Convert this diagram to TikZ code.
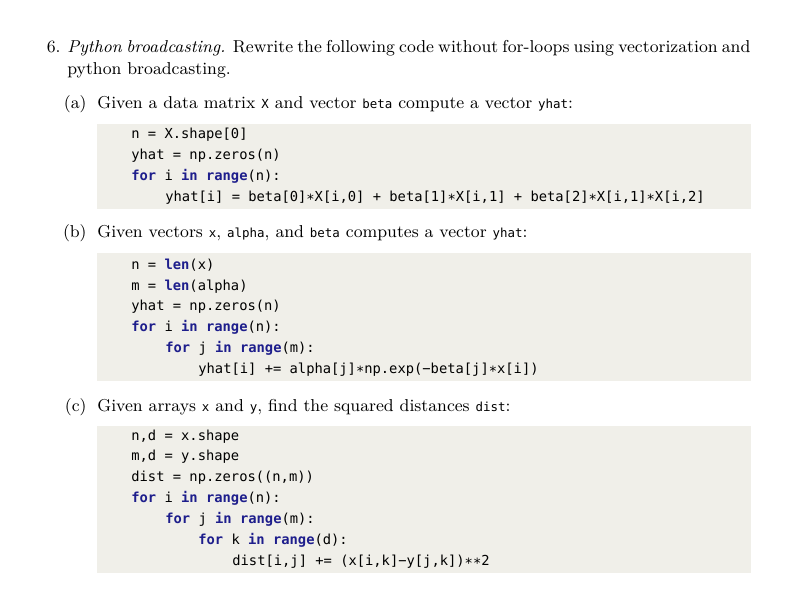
\documentclass[tikz,border=0pt]{standalone}
\usepackage{fontspec}
\usepackage{xcolor}
\usepackage{tikz}
\newfontfamily\codefont{DejaVu Sans Mono}
\definecolor{codebg}{RGB}{240,239,233}
\definecolor{keyword}{RGB}{30,30,140}
\newcommand{\kw}[1]{{\bfseries\color{keyword}#1}}
\newcommand{\inl}[1]{{\codefont\fontsize{6.8}{8}\selectfont #1}}

\begin{document}
\begin{tikzpicture}[x=0.5455pt,y=-0.5455pt,
  txt/.style={anchor=base west,inner sep=0pt,font={\fontsize{9.4}{11}\selectfont}},
  lbl/.style={anchor=base east,inner sep=0pt,font={\fontsize{9.4}{11}\selectfont}},
  codeline/.style={anchor=base west,inner sep=0pt,font={\codefont\fontsize{7.52}{9}\selectfont}}]
\useasboundingbox[fill=white] (0,0) rectangle (790,604);

% code backgrounds
\fill[codebg] (97,124) rectangle (751,209);
\fill[codebg] (97,253) rectangle (751,381);
\fill[codebg] (97,426) rectangle (751,573);

% task text
\node[lbl] (num) at (61,53) {6.};
\node[txt] (L1) at (67,53)
{\makebox[372.6pt][s]{\textit{Python broadcasting.} Rewrite the following code without for-loops using vectorization and}};
\node[txt] (L2) at (67,75) {python broadcasting.};

% part a
\node[lbl] (pa) at (87,109) {(a)};
\node[txt] (Ta) at (97,109)
{Given a data matrix \inl{X} and vector \inl{beta} compute a vector \inl{yhat}:};
\node[codeline] (a1) at (131,139) {n = X.shape[0]};
\node[codeline] (a2) at (131,160) {yhat = np.zeros(n)};
\node[codeline] (a3) at (131,181) {\kw{for} i \kw{in} \kw{range}(n):};
\node[codeline] (a4) at (165,202)
{yhat[i] = beta[0]∗X[i,0] + beta[1]∗X[i,1] + beta[2]∗X[i,1]∗X[i,2]};

% part b
\node[lbl] (pb) at (87,238) {(b)};
\node[txt] (Tb) at (97,238)
{Given vectors \inl{x}, \inl{alpha}, and \inl{beta} computes a vector \inl{yhat}:};
\node[codeline] (b1) at (131,270) {n = \kw{len}(x)};
\node[codeline] (b2) at (131,291) {m = \kw{len}(alpha)};
\node[codeline] (b3) at (131,311) {yhat = np.zeros(n)};
\node[codeline] (b4) at (131,332) {\kw{for} i \kw{in} \kw{range}(n):};
\node[codeline] (b5) at (165,353) {\kw{for} j \kw{in} \kw{range}(m):};
\node[codeline] (b6) at (198,374) {yhat[i] += alpha[j]∗np.exp(−beta[j]∗x[i])};

% part c
\node[lbl] (pc) at (87,412) {(c)};
\node[txt] (Tc) at (97,412)
{Given arrays \inl{x} and \inl{y}, find the squared distances \inl{dist}:};
\node[codeline] (c1) at (131,441) {n,d = x.shape};
\node[codeline] (c2) at (131,461) {m,d = y.shape};
\node[codeline] (c3) at (131,482) {dist = np.zeros((n,m))};
\node[codeline] (c4) at (131,503) {\kw{for} i \kw{in} \kw{range}(n):};
\node[codeline] (c5) at (165,524) {\kw{for} j \kw{in} \kw{range}(m):};
\node[codeline] (c6) at (198,545) {\kw{for} k \kw{in} \kw{range}(d):};
\node[codeline] (c7) at (232,566) {dist[i,j] += (x[i,k]−y[j,k])∗∗2};
\end{tikzpicture}
\end{document}
